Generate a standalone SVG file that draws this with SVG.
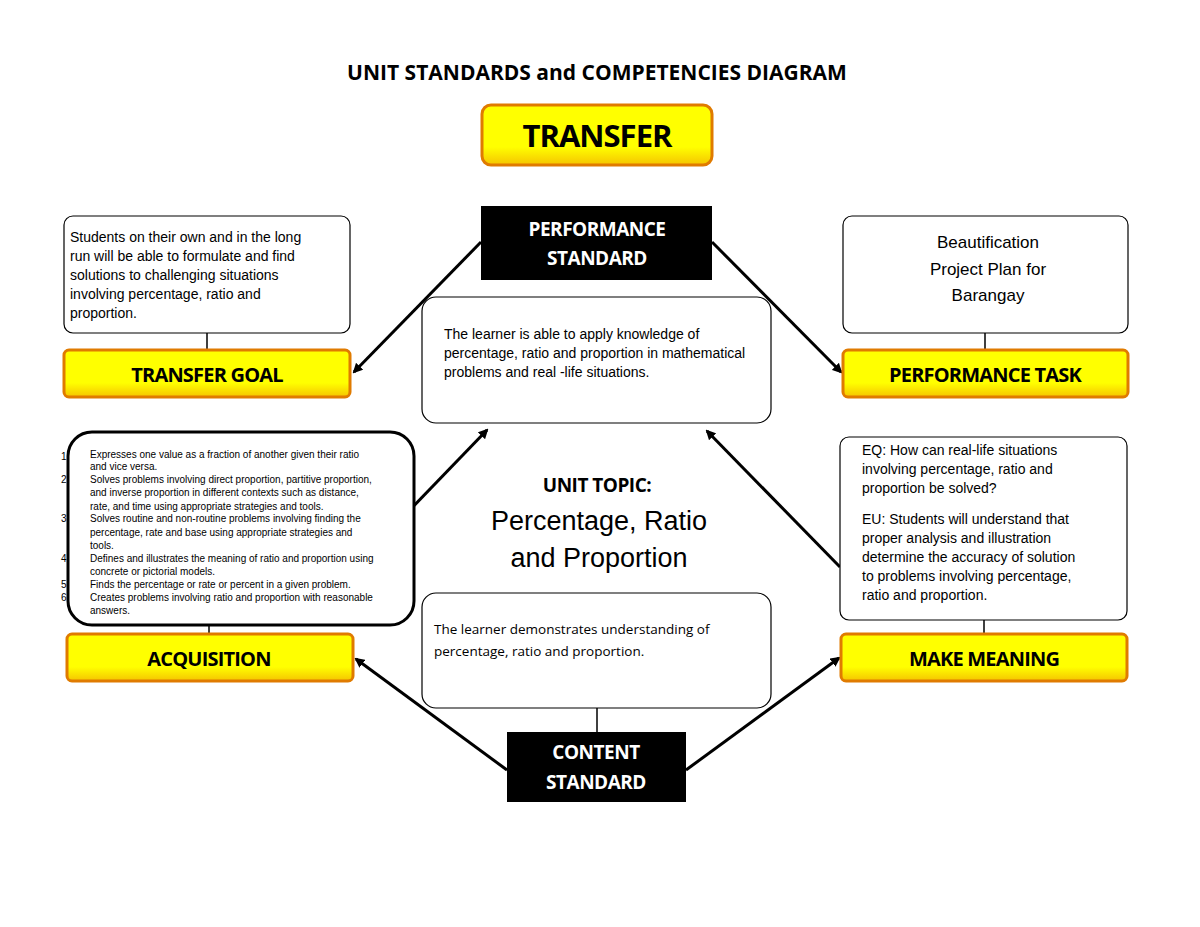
<svg xmlns="http://www.w3.org/2000/svg" width="1200" height="927" viewBox="0 0 1200 927">
<defs>
<linearGradient id="yg" x1="0" y1="0" x2="0" y2="1"><stop offset="0" stop-color="#ffff00"/><stop offset="0.7" stop-color="#ffff00"/><stop offset="1" stop-color="#f5c400"/></linearGradient>
<marker id="ah" markerWidth="10" markerHeight="10" refX="8" refY="5" orient="auto" markerUnits="userSpaceOnUse"><path d="M0,0 L10,5 L0,10 z" fill="#000"/></marker>
</defs>
<style>
.y{fill:url(#yg);stroke:#e07b00;stroke-width:3}
.b{fill:#000}
.w{fill:#fff;stroke:#000;stroke-width:1.2}
.yt{font-family:"Open Sans","Liberation Sans",sans-serif;font-weight:bold;font-size:20px;fill:#000;text-anchor:middle;letter-spacing:-0.8px}
.bt{font-family:"Open Sans","Liberation Sans",sans-serif;font-weight:bold;font-size:19px;fill:#fff;text-anchor:middle;letter-spacing:-0.5px}
.t{font-family:"Liberation Sans",Arial,sans-serif;font-size:14px;fill:#000}
.s{font-family:"Liberation Sans",Arial,sans-serif;font-size:10px;fill:#000}
.c{stroke:#000;stroke-width:3;fill:none;marker-end:url(#ah)}
</style>
<rect width="1200" height="927" fill="#fff"/>
<text x="597" y="80" font-family="'Open Sans','Liberation Sans',sans-serif" font-weight="bold" font-size="21" text-anchor="middle">UNIT STANDARDS and COMPETENCIES DIAGRAM</text>
<g id="connectors">
<line x1="207" y1="333" x2="207" y2="350" stroke="#000" stroke-width="1.5"/>
<line x1="985" y1="333" x2="985" y2="350" stroke="#000" stroke-width="1.5"/>
<line x1="209" y1="625" x2="209" y2="634" stroke="#000" stroke-width="1.5"/>
<line x1="984" y1="620" x2="984" y2="634" stroke="#000" stroke-width="1.5"/>
<line x1="597" y1="708" x2="597" y2="732" stroke="#000" stroke-width="1.5"/>
<line class="c" x1="481" y1="242" x2="354" y2="372"/>
<line class="c" x1="712" y1="242" x2="841" y2="372"/>
<line class="c" x1="405" y1="515" x2="487" y2="430"/>
<line class="c" x1="840" y1="567" x2="707" y2="431"/>
<line class="c" x1="507" y1="770" x2="356" y2="659"/>
<line class="c" x1="686" y1="770" x2="839" y2="658"/>
</g>
<g id="transfer"><rect class="y" x="482" y="105" width="230" height="60" rx="9"/><text class="yt" x="597" y="147" style="font-size:31px;letter-spacing:-1px">TRANSFER</text></g>
<g id="perf-standard"><rect class="b" x="481" y="206" width="231" height="74"/><text class="bt" x="597" y="236">PERFORMANCE</text><text class="bt" x="597" y="265">STANDARD</text></g>
<g id="transfer-desc"><rect class="w" x="64" y="216" width="286" height="117" rx="9"/>
<text class="t"><tspan x="70" y="242">Students on their own and in the long</tspan><tspan x="70" y="261">run will be able to formulate and find</tspan><tspan x="70" y="280">solutions to challenging situations</tspan><tspan x="70" y="299">involving percentage, ratio and</tspan><tspan x="70" y="318">proportion.</tspan></text></g>
<g id="transfer-goal"><rect class="y" x="64" y="350" width="286" height="47" rx="5"/><text class="yt" x="207" y="382">TRANSFER GOAL</text></g>
<g id="task-desc"><rect class="w" x="843" y="216" width="285" height="117" rx="9"/>
<text class="t" style="font-size:17px" text-anchor="middle"><tspan x="988" y="248">Beautification</tspan><tspan x="988" y="275">Project Plan for</tspan><tspan x="988" y="301">Barangay</tspan></text></g>
<g id="perf-task"><rect class="y" x="843" y="350" width="285" height="47" rx="5"/><text class="yt" x="985" y="382">PERFORMANCE TASK</text></g>
<g id="perf-desc"><rect class="w" x="422" y="297" width="349" height="126" rx="14"/>
<text class="t"><tspan x="444" y="339">The learner is able to apply knowledge of</tspan><tspan x="444" y="358">percentage, ratio and proportion in mathematical</tspan><tspan x="444" y="377">problems and real -life situations.</tspan></text></g>
<g id="acq-list"><rect x="68" y="432" width="346" height="193" rx="24" fill="#fff" stroke="#000" stroke-width="3"/>
<text class="s"><tspan x="61" y="460">1</tspan><tspan x="61" y="483">2</tspan><tspan x="61" y="522">3</tspan><tspan x="61" y="562">4</tspan><tspan x="61" y="588">5</tspan><tspan x="61" y="601">6</tspan></text>
<text class="s"><tspan x="90" y="458">Expresses one value as a fraction of another given their ratio</tspan><tspan x="90" y="470">and vice versa.</tspan><tspan x="90" y="483">Solves problems involving direct proportion, partitive proportion,</tspan><tspan x="90" y="496">and inverse proportion in different contexts such as distance,</tspan><tspan x="90" y="510">rate, and time using appropriate strategies and tools.</tspan><tspan x="90" y="522">Solves routine and non-routine problems involving finding the</tspan><tspan x="90" y="536">percentage, rate and base using appropriate strategies and</tspan><tspan x="90" y="549">tools.</tspan><tspan x="90" y="562">Defines and illustrates the meaning of ratio and proportion using</tspan><tspan x="90" y="575">concrete or pictorial models.</tspan><tspan x="90" y="588">Finds the percentage or rate or percent in a given problem.</tspan><tspan x="90" y="601">Creates problems involving ratio and proportion with reasonable</tspan><tspan x="90" y="614">answers.</tspan></text></g>
<g id="acquisition"><rect class="y" x="67" y="634" width="286" height="47" rx="5"/><text class="yt" x="209" y="666">ACQUISITION</text></g>
<g id="meaning-desc"><rect class="w" x="840" y="437" width="287" height="183" rx="9"/>
<text class="t"><tspan x="862" y="455">EQ: How can real-life situations</tspan><tspan x="862" y="474">involving percentage, ratio and</tspan><tspan x="862" y="493">proportion be solved?</tspan><tspan x="862" y="524">EU: Students will understand that</tspan><tspan x="862" y="543">proper analysis and illustration</tspan><tspan x="862" y="562">determine the accuracy of solution</tspan><tspan x="862" y="581">to problems involving percentage,</tspan><tspan x="862" y="600">ratio and proportion.</tspan></text></g>
<g id="make-meaning"><rect class="y" x="841" y="634" width="286" height="47" rx="5"/><text class="yt" x="984" y="666">MAKE MEANING</text></g>
<g id="unit-topic"><text x="597" y="492" font-family="'Open Sans','Liberation Sans',sans-serif" font-weight="bold" font-size="19" text-anchor="middle" letter-spacing="-0.5">UNIT TOPIC:</text>
<text font-family="'Liberation Sans',Arial,sans-serif" font-size="27" text-anchor="middle"><tspan x="599" y="530">Percentage, Ratio</tspan><tspan x="599" y="567">and Proportion</tspan></text></g>
<g id="content-desc"><rect class="w" x="422" y="593" width="349" height="115" rx="14"/>
<text font-family="'Open Sans','Liberation Sans',sans-serif" font-size="13.5"><tspan x="434" y="634">The learner demonstrates understanding of</tspan><tspan x="434" y="656">percentage, ratio and proportion.</tspan></text></g>
<g id="content-standard"><rect class="b" x="507" y="732" width="179" height="70"/><text class="bt" x="596" y="759">CONTENT</text><text class="bt" x="596" y="789">STANDARD</text></g>
</svg>
